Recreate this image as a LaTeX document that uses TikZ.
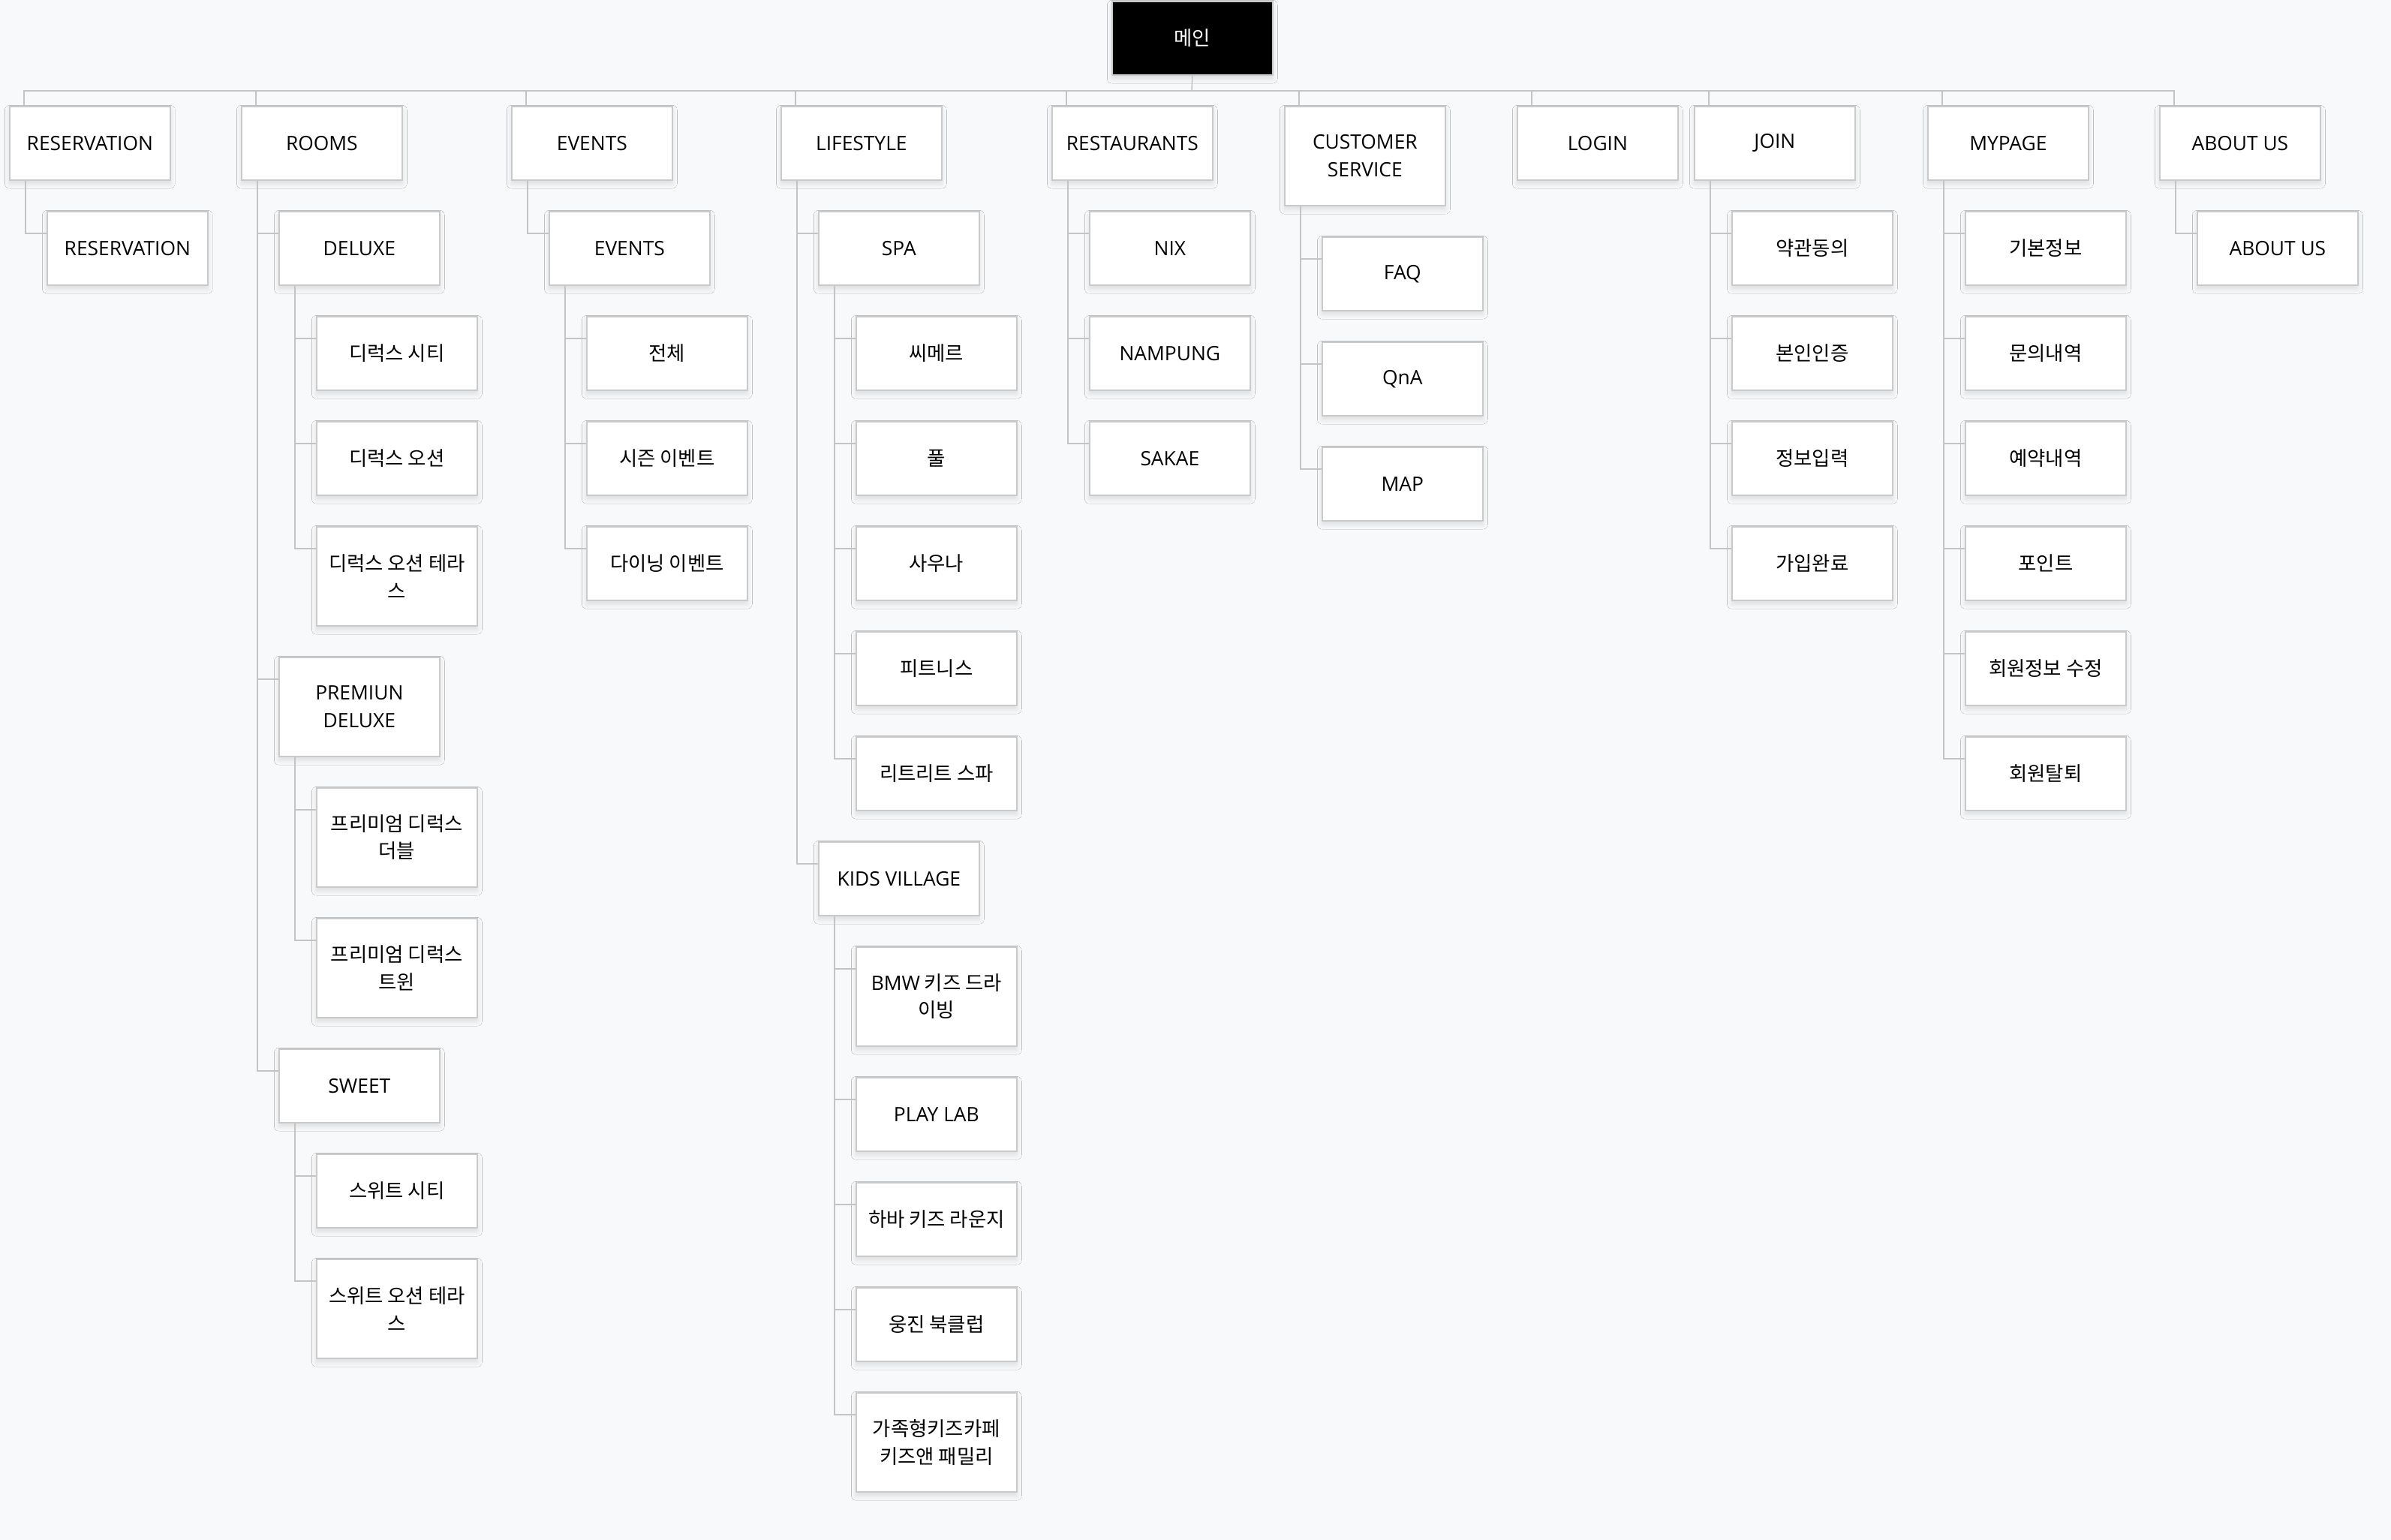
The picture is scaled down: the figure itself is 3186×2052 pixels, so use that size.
\documentclass[tikz,border=0pt]{standalone}
\usepackage{fontspec}
\setmainfont{Open Sans}
\newfontfamily\kfont{Noto Sans CJK KR}
\usetikzlibrary{shadows.blur}
\definecolor{canvas}{HTML}{F8F9FA}
\definecolor{boxedge}{HTML}{CACACA}
\definecolor{linegray}{HTML}{C4C4C4}
\newcommand\boxfont{\fontsize{7.5}{10.4}\selectfont}

\begin{document}
\begin{tikzpicture}[x=0.01cm, y=-0.01cm,
  font=\boxfont,
  page/.style={draw=boxedge, line width=0.45pt, fill=white, anchor=north west,
               align=center, inner sep=2pt, minimum width=2.14cm, minimum height=0.98cm,
               blur shadow={shadow xshift=0pt, shadow yshift=-1.4pt,
                            shadow blur radius=1.8pt, shadow blur steps=10,
                            shadow opacity=12}},
  tall/.style={minimum height=1.32cm},
  kr/.style={font=\kfont\boxfont},
  root/.style={page, fill=black, text=white},
  link/.style={draw=linegray, line width=0.45pt}]

\fill[canvas] (0,0) rectangle (3186,2052);

\node[root, kr] (main) at (1481,1) {메인};
\coordinate (hub) at (1588,121);
\draw[link] (main.south) -- (hub);

% top level
\node[page] (resv)  at (12,141)   {RESERVATION};
\node[page] (rooms) at (321,141)  {ROOMS};
\node[page] (evt)   at (681,141)  {EVENTS};
\node[page] (life)  at (1040,141) {LIFESTYLE};
\node[page] (rest)  at (1401,141) {RESTAURANTS};
\node[page, tall] (cs) at (1711,141) {CUSTOMER\\ SERVICE};
\node[page] (login) at (2021,141) {LOGIN};
\node[page] (join)  at (2257,141) {JOIN};
\node[page] (my)    at (2568,141) {MYPAGE};
\node[page] (abt)   at (2877,141) {ABOUT US};
\foreach \n in {resv,rooms,evt,life,rest,cs,login,join,my,abt}
  \draw[link] (hub) -| ([xshift=2mm]\n.north west);

% reservation
\node[page] (resv1) at (62,281) {RESERVATION};
\draw[link] ([xshift=2.2mm]resv.south west) |- ([yshift=-3mm]resv1.north west);

% rooms
\node[page] (dlx)       at (371,281)  {DELUXE};
\node[page, kr] (dlx1)  at (421,421)  {디럭스 시티};
\node[page, kr] (dlx2)  at (421,561)  {디럭스 오션};
\node[page, kr, tall] (dlx3) at (421,701) {디럭스 오션 테라\\ 스};
\node[page, tall] (pdlx) at (371,875) {PREMIUN\\ DELUXE};
\node[page, kr, tall] (pdlx1) at (421,1049) {프리미엄 디럭스\\ 더블};
\node[page, kr, tall] (pdlx2) at (421,1223) {프리미엄 디럭스\\ 트윈};
\node[page] (swt)       at (371,1397) {SWEET};
\node[page, kr] (swt1)  at (421,1537) {스위트 시티};
\node[page, kr, tall] (swt2) at (421,1677) {스위트 오션 테라\\ 스};
\foreach \c in {dlx,pdlx,swt}
  \draw[link] ([xshift=2.2mm]rooms.south west) |- ([yshift=-3mm]\c.north west);
\foreach \c in {dlx1,dlx2,dlx3}
  \draw[link] ([xshift=2.2mm]dlx.south west) |- ([yshift=-3mm]\c.north west);
\foreach \c in {pdlx1,pdlx2}
  \draw[link] ([xshift=2.2mm]pdlx.south west) |- ([yshift=-3mm]\c.north west);
\foreach \c in {swt1,swt2}
  \draw[link] ([xshift=2.2mm]swt.south west) |- ([yshift=-3mm]\c.north west);

% events
\node[page] (evt0)     at (731,281) {EVENTS};
\node[page, kr] (evt1) at (781,421) {전체};
\node[page, kr] (evt2) at (781,561) {시즌 이벤트};
\node[page, kr] (evt3) at (781,701) {다이닝 이벤트};
\draw[link] ([xshift=2.2mm]evt.south west) |- ([yshift=-3mm]evt0.north west);
\foreach \c in {evt1,evt2,evt3}
  \draw[link] ([xshift=2.2mm]evt0.south west) |- ([yshift=-3mm]\c.north west);

% lifestyle
\node[page] (spa)      at (1090,281) {SPA};
\node[page, kr] (spa1) at (1140,421) {씨메르};
\node[page, kr] (spa2) at (1140,561) {풀};
\node[page, kr] (spa3) at (1140,701) {사우나};
\node[page, kr] (spa4) at (1140,841) {피트니스};
\node[page, kr] (spa5) at (1140,981) {리트리트 스파};
\node[page] (kids)     at (1090,1121) {KIDS VILLAGE};
\node[page, kr, tall] (kids1) at (1140,1261) {{\rmfamily BMW} 키즈 드라\\ 이빙};
\node[page] (kids2)     at (1140,1435) {PLAY LAB};
\node[page, kr] (kids3) at (1140,1575) {하바 키즈 라운지};
\node[page, kr] (kids4) at (1140,1715) {웅진 북클럽};
\node[page, kr, tall] (kids5) at (1140,1855) {가족형키즈카페\\ 키즈앤 패밀리};
\foreach \c in {spa,kids}
  \draw[link] ([xshift=2.2mm]life.south west) |- ([yshift=-3mm]\c.north west);
\foreach \c in {spa1,spa2,spa3,spa4,spa5}
  \draw[link] ([xshift=2.2mm]spa.south west) |- ([yshift=-3mm]\c.north west);
\foreach \c in {kids1,kids2,kids3,kids4,kids5}
  \draw[link] ([xshift=2.2mm]kids.south west) |- ([yshift=-3mm]\c.north west);

% restaurants
\node[page] (rest1) at (1451,281) {NIX};
\node[page] (rest2) at (1451,421) {NAMPUNG};
\node[page] (rest3) at (1451,561) {SAKAE};
\foreach \c in {rest1,rest2,rest3}
  \draw[link] ([xshift=2.2mm]rest.south west) |- ([yshift=-3mm]\c.north west);

% customer service
\node[page] (cs1) at (1761,315) {FAQ};
\node[page] (cs2) at (1761,455) {QnA};
\node[page] (cs3) at (1761,595) {MAP};
\foreach \c in {cs1,cs2,cs3}
  \draw[link] ([xshift=2.2mm]cs.south west) |- ([yshift=-3mm]\c.north west);

% join
\node[page, kr] (join1) at (2307,281) {약관동의};
\node[page, kr] (join2) at (2307,421) {본인인증};
\node[page, kr] (join3) at (2307,561) {정보입력};
\node[page, kr] (join4) at (2307,701) {가입완료};
\foreach \c in {join1,join2,join3,join4}
  \draw[link] ([xshift=2.2mm]join.south west) |- ([yshift=-3mm]\c.north west);

% mypage
\node[page, kr] (my1) at (2618,281) {기본정보};
\node[page, kr] (my2) at (2618,421) {문의내역};
\node[page, kr] (my3) at (2618,561) {예약내역};
\node[page, kr] (my4) at (2618,701) {포인트};
\node[page, kr] (my5) at (2618,841) {회원정보 수정};
\node[page, kr] (my6) at (2618,981) {회원탈퇴};
\foreach \c in {my1,my2,my3,my4,my5,my6}
  \draw[link] ([xshift=2.2mm]my.south west) |- ([yshift=-3mm]\c.north west);

% about us
\node[page] (abt1) at (2927,281) {ABOUT US};
\draw[link] ([xshift=2.2mm]abt.south west) |- ([yshift=-3mm]abt1.north west);
\end{tikzpicture}
\end{document}
